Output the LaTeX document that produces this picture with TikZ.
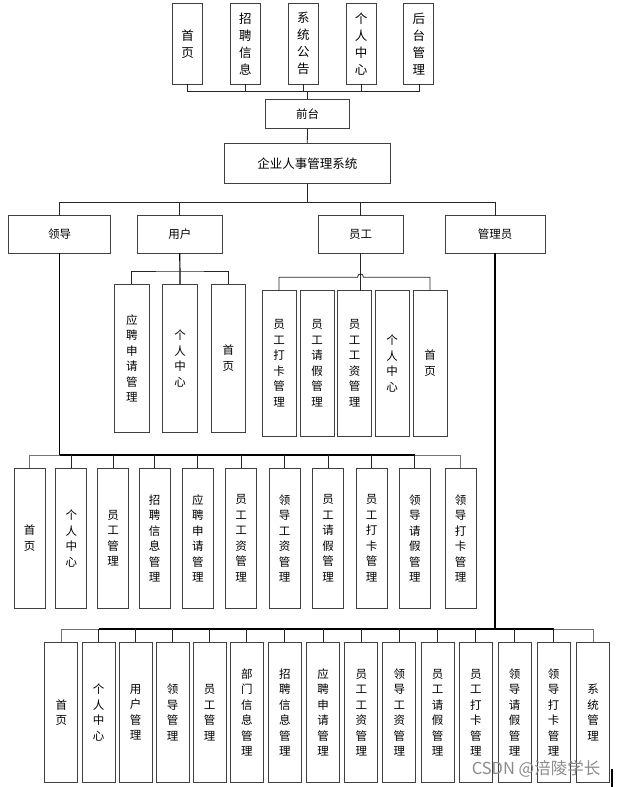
\documentclass[tikz,border=0pt]{standalone}
\usepackage{fontspec}
\newfontfamily\cjk{Noto Sans CJK SC}
\begin{document}
\begin{tikzpicture}[x=1pt,y=-1pt,
  box/.style={draw=black!75,line width=0.9pt,fill=white,inner sep=0pt,outer sep=0pt,align=center},
  vtop/.style={box,minimum width=30pt,minimum height=81pt,font=\cjk\fontsize{12.5}{17}\selectfont},
  hbox/.style={box,font=\cjk\fontsize{11.5}{14}\selectfont},
  vmid/.style={box,font=\cjk\fontsize{11.5}{15.5}\selectfont},
  conn/.style={draw=black!85,line width=0.8pt},
  trunk/.style={draw=black,line width=1.6pt}]
\useasboundingbox (0,0) rectangle (620,787);
% top level
\node[vtop] (t1) at (187.7,43.8) {首\\页};
\node[vtop] (t2) at (245.3,43.8) {招\\聘\\信\\息};
\node[vtop] (t3) at (303.3,43.8) {系\\统\\公\\告};
\node[vtop] (t4) at (361,43.8) {个\\人\\中\\心};
\node[vtop] (t5) at (418.9,43.8) {后\\台\\管\\理};
\node[hbox,minimum width=84.4pt,minimum height=28.7pt] (qt) at (307.5,113.7) {前台};
\node[hbox,minimum width=166pt,minimum height=40.4pt,font=\cjk\fontsize{12.5}{14}\selectfont] (sys) at (307.3,163.5) {企业人事管理系统};
\coordinate (tb) at (307.5,91);
\draw[conn] (t1.south) |- (tb) -- (qt.north);
\draw[conn] (t5.south) |- (tb);
\foreach \n in {t2,t3,t4} \draw[conn] (\n.south) -- (\n.south |- tb);
\draw[conn] (qt.south) -- (sys.north);
% roles
\node[hbox,minimum width=101.6pt,minimum height=37.6pt] (ld) at (59.5,234.5) {领导};
\node[hbox,minimum width=84.5pt,minimum height=37.6pt] (yh) at (179.8,234.5) {用户};
\node[hbox,minimum width=85pt,minimum height=37.6pt] (yg) at (360.5,234.5) {员工};
\node[hbox,minimum width=100pt,minimum height=37.6pt] (gly) at (495,234.5) {管理员};
\coordinate (rb) at (307.3,202.3);
\draw[conn] (sys.south) -- (rb);
\draw[conn] (ld.north) |- (rb);
\draw[conn] (gly.north) |- (rb);
\draw[conn] (yh.north) -- (yh.north |- rb);
\draw[conn] (yg.north) -- (yg.north |- rb);
% user children
\foreach \x/\t [count=\i] in {131.8/{应\\聘\\申\\请\\管\\理},180/{个\\人\\中\\心},228.3/{首\\页}}
  \node[vmid,minimum width=34.5pt,minimum height=148pt] (u\i) at (\x,358.3) {\t};
\coordinate (ub) at (180,271);
\draw[trunk,line width=1.2pt] (yh.south) -- (u2.north);
\draw[conn] (u1.north) |- (ub) -| (u3.north);
% employee children
\foreach \x/\t [count=\i] in {279/{员\\工\\打\\卡\\管\\理},317/{员\\工\\请\\假\\管\\理},354.5/{员\\工\\工\\资\\管\\理},392/{个\\人\\中\\心},430/{首\\页}}
  \node[vmid,minimum width=34pt,minimum height=145.3pt] (e\i) at (\x,363.3) {\t};
\coordinate (eb) at (360.5,277.3);
\draw[conn] (yg.south) -- (yg.south |- e3.north);
\draw[conn] (e1.north) -- (e1.north |- eb) -- (357.5,277.3) .. controls (357.5,272.8) and (363.5,272.8) .. (363.5,277.3) -- (e5.north |- eb) -- (e5.north);
% leader children
\foreach \x/\t [count=\i] in {29.7/{首\\页},71.3/{个\\人\\中\\心},113/{员\\工\\管\\理},154.7/{招\\聘\\信\\息\\管\\理},197.8/{应\\聘\\申\\请\\管\\理},241.2/{员\\工\\工\\资\\管\\理},284.7/{领\\导\\工\\资\\管\\理},328.2/{员\\工\\请\\假\\管\\理},371.5/{员\\工\\打\\卡\\管\\理},414.8/{领\\导\\请\\假\\管\\理},460.5/{领\\导\\打\\卡\\管\\理}}
  \node[vmid,minimum width=31pt,minimum height=140pt] (l\i) at (\x,538.3) {\t};
\coordinate (lb) at (59.5,455);
\draw[trunk] (ld.south) -- (lb);
\draw[conn,draw=black!55] (l1.north) |- (lb);
\draw[trunk,line width=1.2pt] (lb) -- (l10.north |- lb);
\draw[conn,draw=black!55] (l10.north |- lb) -| (l11.north);
\foreach \i in {2,...,10} \draw[conn] (l\i.north) -- (l\i.north |- lb);
% admin children
\foreach \x/\t [count=\i] in {61.3/{首\\页},98.7/{个\\人\\中\\心},135.7/{用\\户\\管\\理},172.7/{领\\导\\管\\理},209.7/{员\\工\\管\\理},246.8/{部\\门\\信\\息\\管\\理},284.8/{招\\聘\\信\\息\\管\\理},323.2/{应\\聘\\申\\请\\管\\理},361.3/{员\\工\\工\\资\\管\\理},399.3/{领\\导\\工\\资\\管\\理},437.5/{员\\工\\请\\假\\管\\理},475.8/{员\\工\\打\\卡\\管\\理},514.7/{领\\导\\请\\假\\管\\理},553.7/{领\\导\\打\\卡\\管\\理},593.2/{系\\统\\管\\理}}
  \node[vmid,minimum width=33pt,minimum height=140.4pt] (a\i) at (\x,712.5) {\t};
\coordinate (ab) at (495,629);
\draw[trunk] (gly.south) -- (ab);
\draw[conn,draw=black!55] (a1.north) |- (a2.north |- ab);
\draw[trunk,line width=1.2pt] (a2.north |- ab) -- (a14.north |- ab);
\draw[conn,draw=black!55] (a14.north |- ab) -| (a15.north);
\foreach \i in {2,...,14} \draw[conn] (a\i.north) -- (a\i.north |- ab);
% stray mark and watermark
\draw[trunk] (612,769) -- (612,787);
\node[text=black!45,font=\cjk\fontsize{16.5}{17}\selectfont,inner sep=0pt] (wm) at (536,769) {CSDN @涪陵学长};
\end{tikzpicture}
\end{document}
